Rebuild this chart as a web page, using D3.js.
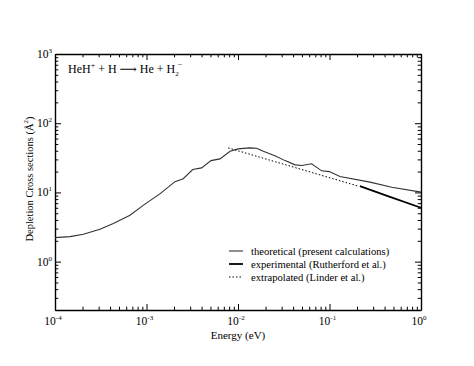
<!DOCTYPE html>
<html>
<head>
<meta charset="utf-8">
<script src="https://cdn.jsdelivr.net/npm/d3@7"></script>
<style>
  body { margin: 0; background: #fff; }
  svg { display: block; }
  text { font-family: "Liberation Serif", "DejaVu Serif", serif; fill: #000; }
  .axis path { stroke: #000; stroke-width: 1.4; }
  .axis line { stroke: #000; stroke-width: 1; }
</style>
</head>
<body>
<svg width="474" height="366"></svg>
<script>
// theoretical (present calculations): energy eV, cross section A^2
const theoE = [1e-4, 1.46e-4, 2.04e-4, 3.1e-4, 4.34e-4, 6.6e-4, 9.2e-4, 1.41e-3, 2.05e-3,
  2.52e-3, 3.2e-3, 4.0e-3, 5.07e-3, 6.35e-3, 8.2e-3, 1.0e-2, 1.35e-2, 1.6e-2, 1.89e-2,
  2.53e-2, 3.27e-2, 4.2e-2, 4.97e-2, 6.38e-2, 8.2e-2, 9.95e-2, 1.3e-1, 2.77e-1, 4.79e-1, 1.0];
const theoS = [2.22, 2.3, 2.49, 2.94, 3.55, 4.67, 6.5, 9.6, 14.3,
  15.8, 21.4, 22.6, 28.8, 30.5, 39.3, 42.6, 44, 43.5, 39.3,
  34, 28.8, 25, 24.5, 25.9, 20.5, 20, 17, 14.1, 11.9, 10.1];
// experimental (Rutherford et al.)
const expE = [0.215, 0.458, 1.0];
const expS = [12.3, 8.6, 6.0];
// extrapolated (Linder et al.)
const extE = [7.8e-3, 0.207];
const extS = [44, 12.3];

const xMajor = [1e-4, 1e-3, 1e-2, 1e-1, 1];
const xLabels = [["10", "-4"], ["10", "-3"], ["10", "-2"], ["10", "-1"], ["10", "0"]];
const yMajor = [1, 10, 100, 1000];
const yLabels = [["10", "0"], ["10", "1"], ["10", "2"], ["10", "3"]];

const legendNames = ["theoretical (present calculations)", "experimental (Rutherford et al.)", "extrapolated (Linder et al.)"];

const svg = d3.select("svg");
const L = 55, R = 421, T = 54, B = 310;

const x = d3.scaleLog().domain([1e-4, 1]).range([L, R]);
const y = d3.scaleLog().domain([0.2, 1000]).range([B, T]);

function minors(lo, hi) {
  const out = [];
  for (let d = lo; d < hi; d *= 10) {
    for (let k = 2; k <= 9; k++) out.push(d * k);
  }
  return out;
}
const xMinor = minors(1e-4, 1);
const yMinor = [0.2, 0.3, 0.4, 0.5, 0.6, 0.7, 0.8, 0.9].concat(minors(1, 1000));

function addAxis(axisFn, scale, translate, major, minor, size) {
  svg.append("g").attr("class", "axis").attr("transform", translate)
    .call(axisFn(scale).tickValues(major).tickSize(-size).tickSizeOuter(0).tickFormat(""));
  svg.append("g").attr("class", "axis").attr("transform", translate)
    .call(axisFn(scale).tickValues(minor).tickSize(-size * 0.55).tickSizeOuter(0).tickFormat(""))
    .select(".domain").remove();
}

addAxis(d3.axisBottom, x, `translate(0,${B})`, xMajor, xMinor, 6);
addAxis(d3.axisTop, x, `translate(0,${T})`, xMajor, xMinor, 6);
addAxis(d3.axisLeft, y, `translate(${L},0)`, yMajor, yMinor, 6);
addAxis(d3.axisRight, y, `translate(${R},0)`, yMajor, yMinor, 6);

function powLabel(g, base, exp) {
  g.append("tspan").text(base);
  g.append("tspan").attr("dy", -5).attr("font-size", 7).text(exp);
}

xMajor.forEach((v, i) => {
  const t = svg.append("text").attr("x", x(v) - 2).attr("y", 325)
    .attr("text-anchor", "middle").attr("font-size", 11.5);
  powLabel(t, xLabels[i][0], xLabels[i][1]);
});
yMajor.forEach((v, i) => {
  const t = svg.append("text").attr("x", 37).attr("y", y(v) + 4)
    .attr("text-anchor", "start").attr("font-size", 11.5);
  powLabel(t, yLabels[i][0], yLabels[i][1]);
});

svg.append("text").attr("x", 238).attr("y", 339).attr("text-anchor", "middle")
  .attr("font-size", 11).text("Energy (eV)");

const yl = svg.append("text").attr("transform", `translate(33,179) rotate(-90)`)
  .attr("text-anchor", "middle").attr("font-size", 10.5);
yl.append("tspan").text("Depletion Cross sections (Å");
yl.append("tspan").attr("dy", -5).attr("font-size", 7).text("2");
yl.append("tspan").attr("dy", 5).text(")");

// reaction annotation
const ann = svg.append("text").attr("x", 68).attr("y", 73).attr("font-size", 12);
ann.append("tspan").text("HeH");
ann.append("tspan").attr("dy", -5).attr("font-size", 8).text("+");
ann.append("tspan").attr("dy", 5).text(" + H ⟶ He + H");
ann.append("tspan").attr("dy", 3).attr("font-size", 7).text("2");
ann.append("tspan").attr("dy", -9).attr("dx", -1).attr("font-size", 8).text("−");

const line = d3.line().x(d => x(d[0])).y(d => y(d[1]));
const plot = svg.append("g");

plot.append("path").datum(d3.zip(theoE, theoS)).attr("d", line)
  .attr("fill", "none").attr("stroke", "#333").attr("stroke-width", 1.1);
plot.append("path").datum(d3.zip(expE, expS)).attr("d", line)
  .attr("fill", "none").attr("stroke", "#000").attr("stroke-width", 1.8);
plot.append("path").datum(d3.zip(extE, extS)).attr("d", line)
  .attr("fill", "none").attr("stroke", "#000").attr("stroke-width", 1)
  .attr("stroke-dasharray", "1.5,2");

// legend
const styles = [
  { w: 1.1, dash: null, c: "#333" },
  { w: 1.8, dash: null, c: "#000" },
  { w: 1, dash: "1.5,2", c: "#000" }
];
const lg = svg.append("g");
legendNames.forEach((n, i) => {
  const yy = 251 + i * 13;
  lg.append("line").attr("x1", 229).attr("x2", 243).attr("y1", yy).attr("y2", yy)
    .attr("stroke", styles[i].c).attr("stroke-width", styles[i].w)
    .attr("stroke-dasharray", styles[i].dash);
  lg.append("text").attr("x", 251).attr("y", yy + 4).attr("font-size", 10.6).text(n);
});
</script>
</body>
</html>
